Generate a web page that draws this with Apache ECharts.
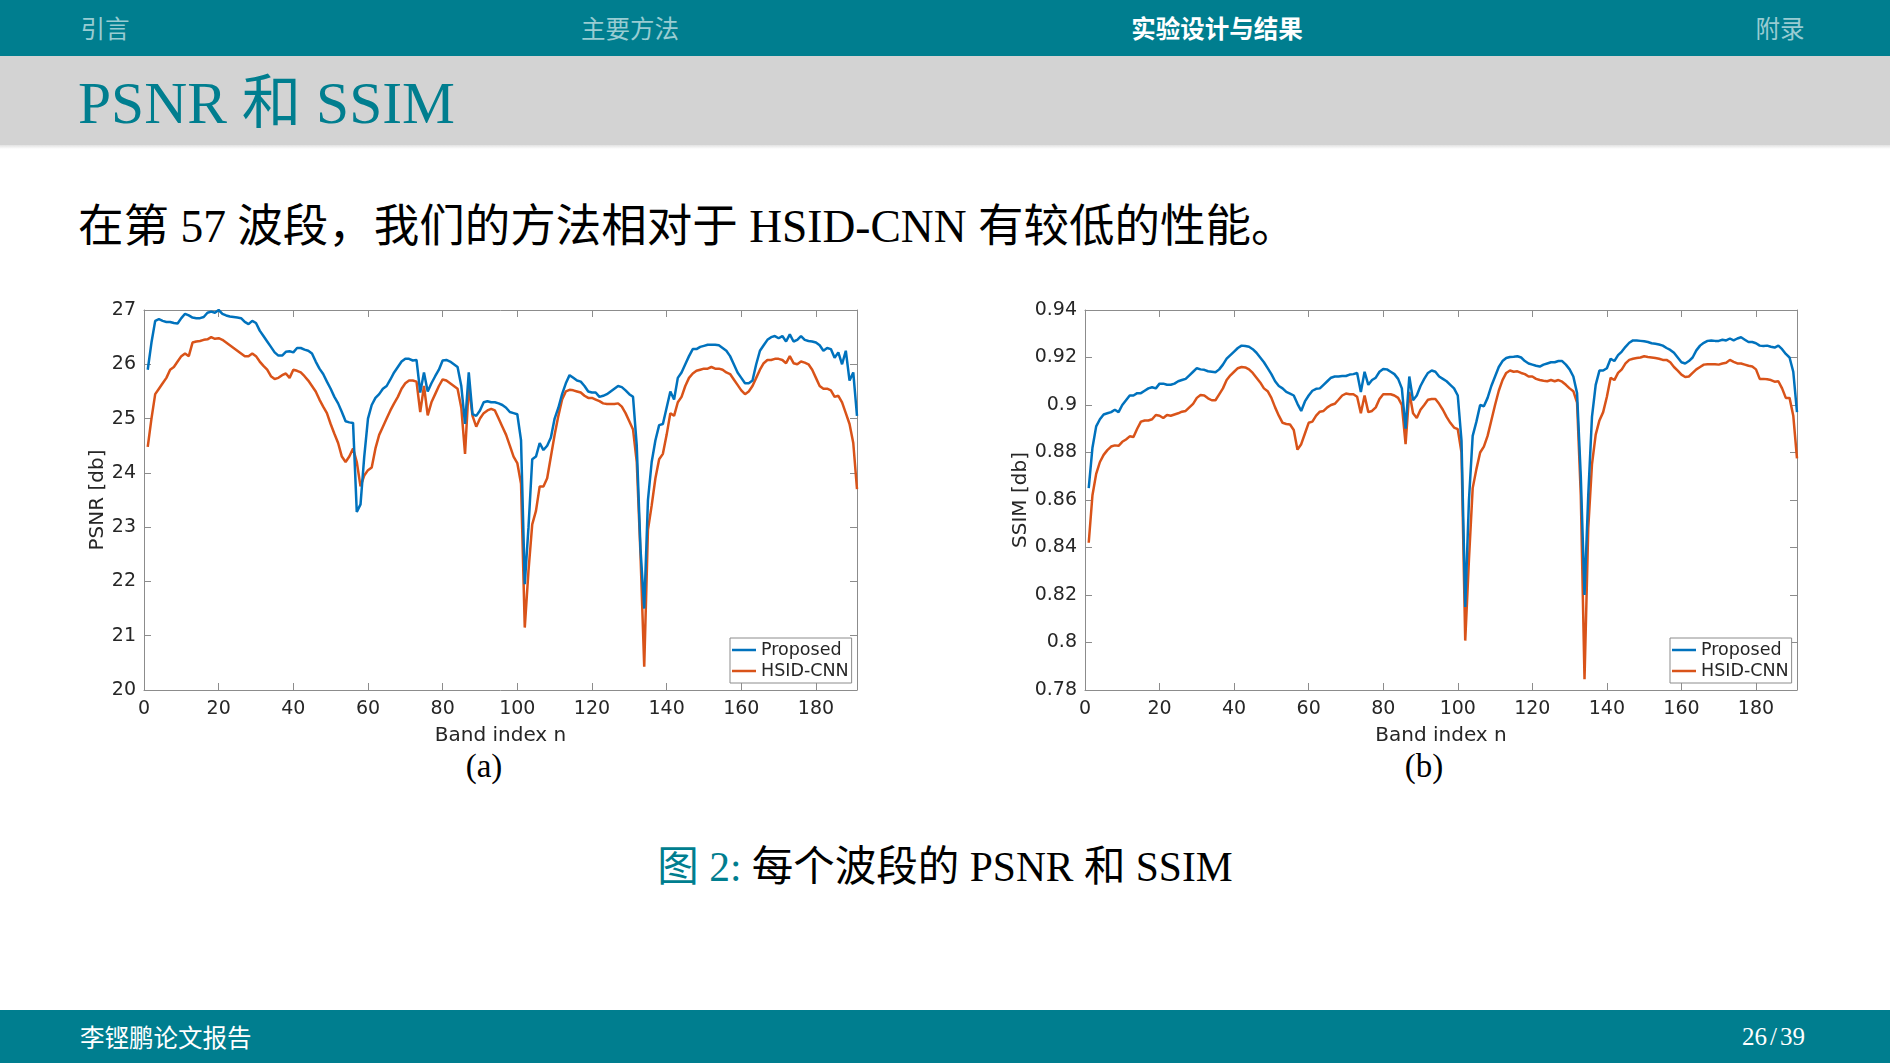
<!DOCTYPE html>
<html><head><meta charset="utf-8">
<script src="https://cdn.jsdelivr.net/npm/echarts@6.0.0/dist/echarts.min.js"></script>
<style>
html,body{margin:0;padding:0;background:#fff;}
#page{position:relative;width:1890px;height:1063px;overflow:hidden;background:#fff;}
.bar{position:absolute;left:0;width:1890px;background:#007E8F;}
.nav{position:absolute;top:0;height:56px;line-height:56px;font-family:"Noto Sans CJK SC",sans-serif;font-size:24.5px;color:#99CCD2;transform:translateX(-50%);white-space:nowrap;}
.serif{font-family:"Liberation Serif","Noto Sans CJK SC",serif;}
#chart{position:absolute;left:0;top:0;width:1890px;height:1063px;}
.sub{position:absolute;font-family:"Liberation Serif",serif;font-size:33px;line-height:1;color:#000;transform:translateX(-50%);}
</style></head>
<body><div id="page">
<div class="bar" style="top:0;height:56px;"></div>
<div class="nav" style="left:105px;">引言</div>
<div class="nav" style="left:630px;">主要方法</div>
<div class="nav" style="left:1217px;color:#fff;font-weight:bold;">实验设计与结果</div>
<div class="nav" style="left:1780px;">附录</div>
<div style="position:absolute;left:0;top:56px;width:1890px;height:89px;background:#D3D3D3;"></div>
<div style="position:absolute;left:0;top:145px;width:1890px;height:4px;background:linear-gradient(#e2e2e2,#ffffff);"></div>
<div class="serif" style="position:absolute;left:78px;top:74px;font-size:59.5px;line-height:1;color:#007E8F;white-space:nowrap;">PSNR 和 SSIM</div>
<div class="serif" style="position:absolute;left:78px;top:204px;font-size:45.5px;line-height:1;color:#000;white-space:nowrap;">在第 57 波段，我们的方法相对于 HSID-CNN 有较低的性能。</div>
<div class="serif" style="position:absolute;left:945px;top:847px;transform:translateX(-50%);font-size:41.5px;line-height:1;color:#000;white-space:nowrap;"><span style="color:#007E8F;">图 2:</span> 每个波段的 PSNR 和 SSIM</div>
<div class="bar" style="top:1010px;height:53px;"></div>
<div style="position:absolute;left:80px;top:1010px;height:53px;line-height:53px;font-family:'Noto Sans CJK SC',sans-serif;font-size:24.5px;color:#fff;">李铿鹏论文报告</div>
<div class="serif" style="position:absolute;right:85px;top:1010px;height:53px;line-height:53px;font-size:25px;color:#fff;white-space:nowrap;">26<span style="margin:0 3px;">/</span>39</div>
<div class="sub" style="left:484px;top:750px;">(a)</div>
<div class="sub" style="left:1424px;top:750px;">(b)</div>
<div id="chart"></div>
</div>
<script>
// ---- data (band index n = 1..191) ----
const xTickLabels = [0, 20, 40, 60, 80, 100, 120, 140, 160, 180];
const seriesNames = ['Proposed', 'HSID-CNN'];
const psnrProposed = [
25.9,26.4,26.8,26.83,26.8,26.78,26.78,26.76,26.75,26.85,
26.93,26.9,26.86,26.85,26.85,26.87,26.95,26.97,26.95,27.0,
26.93,26.9,26.88,26.87,26.86,26.85,26.78,26.74,26.8,26.76,
26.62,26.52,26.42,26.32,26.22,26.16,26.16,26.23,26.24,26.22,
26.3,26.3,26.27,26.25,26.2,26.05,25.92,25.82,25.68,25.55,
25.4,25.28,25.12,24.95,24.93,24.92,23.28,23.42,24.3,25.0,
25.25,25.38,25.45,25.55,25.6,25.72,25.85,25.95,26.05,26.1,
26.1,26.07,26.08,25.48,25.85,25.5,25.65,25.78,25.9,26.07,
26.08,26.05,26.0,25.95,25.6,24.9,25.85,25.08,25.05,25.15,
25.3,25.32,25.3,25.3,25.28,25.25,25.2,25.12,25.1,25.08,
24.6,21.95,23.0,24.25,24.3,24.55,24.42,24.5,24.65,25.0,
25.2,25.45,25.65,25.8,25.75,25.7,25.68,25.6,25.5,25.48,
25.48,25.4,25.42,25.45,25.5,25.55,25.6,25.58,25.52,25.45,
25.4,24.5,22.6,21.5,23.5,24.2,24.6,24.88,24.9,25.2,
25.5,25.35,25.75,25.85,26.0,26.15,26.28,26.28,26.32,26.34,
26.36,26.36,26.36,26.35,26.3,26.25,26.15,26.0,25.85,25.75,
25.65,25.65,25.7,26.0,26.25,26.35,26.45,26.5,26.52,26.48,
26.52,26.42,26.55,26.42,26.45,26.52,26.45,26.43,26.42,26.4,
26.35,26.25,26.3,26.28,26.12,26.22,26.0,26.25,25.7,25.85,
25.05];
const psnrHSID = [
24.48,25.0,25.45,25.55,25.65,25.75,25.9,25.95,26.05,26.15,
26.2,26.15,26.4,26.42,26.43,26.45,26.46,26.5,26.47,26.48,
26.45,26.4,26.35,26.3,26.25,26.2,26.15,26.15,26.2,26.15,
26.05,25.97,25.9,25.78,25.73,25.75,25.8,25.83,25.75,25.9,
25.88,25.85,25.78,25.7,25.6,25.5,25.35,25.22,25.1,24.9,
24.72,24.55,24.3,24.2,24.3,24.45,24.2,23.75,23.95,24.05,
24.1,24.45,24.7,24.85,25.0,25.15,25.28,25.4,25.55,25.65,
25.7,25.7,25.68,25.12,25.6,25.06,25.3,25.45,25.6,25.72,
25.7,25.65,25.6,25.55,25.2,24.35,25.6,25.05,24.85,25.0,
25.1,25.15,25.18,25.15,25.0,24.85,24.7,24.5,24.3,24.18,
23.8,21.15,22.2,23.05,23.3,23.75,23.75,23.9,24.3,24.7,
25.05,25.35,25.5,25.53,25.52,25.5,25.48,25.42,25.38,25.38,
25.35,25.32,25.28,25.27,25.27,25.27,25.28,25.22,25.1,24.95,
24.8,24.2,22.5,20.43,22.95,23.4,23.9,24.25,24.35,24.7,
25.1,25.05,25.3,25.4,25.6,25.75,25.83,25.88,25.9,25.92,
25.92,25.95,25.92,25.92,25.9,25.85,25.82,25.72,25.62,25.52,
25.45,25.5,25.6,25.75,25.9,26.02,26.08,26.08,26.1,26.1,
26.08,26.02,26.15,26.02,26.0,26.05,26.03,26.0,25.9,25.75,
25.6,25.55,25.55,25.52,25.4,25.42,25.3,25.1,24.9,24.55,
23.7];
const ssimProposed = [
0.865,0.882,0.891,0.894,0.896,0.8965,0.897,0.898,0.897,0.900,
0.902,0.904,0.904,0.905,0.905,0.906,0.907,0.9075,0.907,0.909,
0.909,0.9085,0.9085,0.909,0.910,0.9105,0.911,0.9125,0.914,0.9155,
0.915,0.9148,0.9142,0.914,0.9138,0.915,0.917,0.9195,0.921,0.9225,
0.924,0.925,0.9248,0.9245,0.9235,0.922,0.920,0.918,0.9155,0.913,
0.910,0.908,0.907,0.9055,0.9048,0.904,0.9005,0.8975,0.9015,0.904,
0.906,0.9068,0.907,0.9085,0.910,0.9115,0.912,0.912,0.9122,0.9122,
0.9128,0.913,0.9135,0.9055,0.914,0.9085,0.9105,0.9115,0.914,0.9152,
0.915,0.914,0.913,0.911,0.907,0.890,0.912,0.902,0.904,0.908,
0.911,0.9135,0.9145,0.914,0.912,0.911,0.910,0.9085,0.907,0.904,
0.885,0.815,0.860,0.887,0.893,0.900,0.8995,0.903,0.908,0.912,
0.916,0.9185,0.9198,0.9202,0.9203,0.9205,0.920,0.9185,0.9175,0.917,
0.9165,0.9162,0.917,0.9175,0.918,0.918,0.9185,0.9185,0.917,0.915,
0.912,0.905,0.870,0.820,0.862,0.895,0.9085,0.9145,0.9145,0.9155,
0.9195,0.9185,0.921,0.9225,0.9245,0.9262,0.9272,0.9272,0.927,0.9268,
0.9265,0.926,0.9258,0.9255,0.925,0.924,0.9232,0.922,0.920,0.918,
0.9175,0.9185,0.920,0.923,0.925,0.9262,0.927,0.9272,0.927,0.927,
0.9275,0.9272,0.928,0.9272,0.928,0.9285,0.9275,0.9265,0.9265,0.926,
0.925,0.9248,0.925,0.9245,0.9242,0.925,0.9235,0.9215,0.920,0.914,
0.897];
const ssimHSID = [
0.842,0.862,0.871,0.876,0.879,0.881,0.8825,0.883,0.8828,0.8845,
0.8855,0.8868,0.8865,0.890,0.893,0.8935,0.8935,0.894,0.8958,0.8955,
0.8945,0.8958,0.8955,0.896,0.8965,0.8972,0.8975,0.899,0.9005,0.903,
0.9042,0.904,0.9028,0.902,0.902,0.9045,0.907,0.9105,0.9125,0.914,
0.9155,0.916,0.9158,0.915,0.9135,0.9115,0.9095,0.907,0.9058,0.903,
0.899,0.8955,0.8925,0.892,0.8918,0.8895,0.8812,0.8835,0.888,0.8925,
0.893,0.8955,0.8972,0.8975,0.899,0.900,0.9005,0.9022,0.904,0.9048,
0.9045,0.9045,0.9035,0.8965,0.904,0.897,0.8975,0.899,0.9025,0.9045,
0.9045,0.9045,0.904,0.903,0.900,0.8835,0.9055,0.8965,0.8945,0.898,
0.900,0.9022,0.9025,0.9025,0.9005,0.898,0.895,0.8925,0.8905,0.8898,
0.880,0.8008,0.835,0.865,0.873,0.880,0.8825,0.887,0.8935,0.900,
0.906,0.9105,0.9135,0.9145,0.914,0.9142,0.9135,0.913,0.912,0.912,
0.911,0.9105,0.9102,0.910,0.9105,0.910,0.9105,0.9098,0.9085,0.907,
0.9058,0.901,0.862,0.7845,0.848,0.875,0.8875,0.8935,0.897,0.9035,
0.9115,0.9105,0.9135,0.915,0.9175,0.919,0.9195,0.9198,0.920,0.9205,
0.9202,0.920,0.9198,0.9195,0.919,0.919,0.918,0.916,0.9145,0.9128,
0.9118,0.912,0.9135,0.915,0.916,0.917,0.9172,0.9172,0.9172,0.917,
0.9175,0.9178,0.919,0.9182,0.9175,0.9175,0.917,0.9165,0.9162,0.915,
0.911,0.911,0.9108,0.9105,0.9098,0.910,0.907,0.903,0.903,0.8955,
0.8775];

// ---- chart build ----
const BLUE = '#0072BD', ORANGE = '#D95319', AX = '#8c8c8c', TXT = '#262626', FONT = 'DejaVu Sans';
const toPairs = arr => arr.map((v, i) => [i + 1, v]);
const grids = [
  {left: 144, top: 310, width: 713, height: 380},
  {left: 1085, top: 310, width: 712, height: 380}
];
const yConf = [
  {min: 20, max: 27, interval: 1, name: 'PSNR [db]', nameGap: 35},
  {min: 0.78, max: 0.94, interval: 0.02, name: 'SSIM [db]', nameGap: 54}
];
const xAxes = [], yAxes = [], series = [], legends = [];
grids.forEach((g, gi) => {
  xAxes.push({
    type: 'value', gridIndex: gi, position: 'bottom', min: 0, max: 191,
    axisLine: {onZero: false, lineStyle: {color: AX, width: 1}},
    axisTick: {inside: true, length: 7, lineStyle: {color: AX}, customValues: xTickLabels},
    axisLabel: {customValues: xTickLabels, color: TXT, fontFamily: FONT, fontSize: 19, margin: 10},
    splitLine: {show: false},
    name: 'Band index n', nameLocation: 'middle', nameGap: 35.5,
    nameTextStyle: {color: TXT, fontFamily: FONT, fontSize: 20}
  });
  xAxes.push({
    type: 'value', gridIndex: gi, position: 'top', min: 0, max: 191,
    axisLine: {onZero: false, lineStyle: {color: AX, width: 1}},
    axisTick: {inside: true, length: 7, lineStyle: {color: AX}, customValues: xTickLabels},
    axisLabel: {show: false}, splitLine: {show: false}
  });
  const yc = yConf[gi];
  yAxes.push({
    type: 'value', gridIndex: gi, position: 'left', min: yc.min, max: yc.max, interval: yc.interval,
    axisLine: {show: true, onZero: false, lineStyle: {color: AX, width: 1}},
    axisTick: {show: true, inside: true, length: 7, lineStyle: {color: AX}},
    axisLabel: {color: TXT, fontFamily: FONT, fontSize: 19, margin: 8},
    splitLine: {show: false},
    name: yc.name, nameLocation: 'middle', nameGap: yc.nameGap,
    nameTextStyle: {color: TXT, fontFamily: FONT, fontSize: 20}
  });
  yAxes.push({
    type: 'value', gridIndex: gi, position: 'right', min: yc.min, max: yc.max, interval: yc.interval,
    axisLine: {show: true, onZero: false, lineStyle: {color: AX, width: 1}},
    axisTick: {show: true, inside: true, length: 7, lineStyle: {color: AX}},
    axisLabel: {show: false}, splitLine: {show: false}
  });
  legends.push({
    orient: 'vertical', left: g.left + g.width - 127, top: 638,
    data: seriesNames.map(n => ({name: n, icon: 'rect'})),
    itemWidth: 24, itemHeight: 2.5, itemGap: 3,
    padding: [3, 3, 3, 2], backgroundColor: '#fff', borderColor: AX, borderWidth: 1,
    textStyle: {color: TXT, fontFamily: FONT, fontSize: 17.5, lineHeight: 18}, selectedMode: false
  });
});
const sets = [[psnrProposed, psnrHSID], [ssimProposed, ssimHSID]];
sets.forEach((pair, gi) => {
  pair.forEach((vals, si) => {
    series.push({
      type: 'line', name: seriesNames[si], xAxisIndex: gi * 2, yAxisIndex: gi * 2,
      data: toPairs(vals), showSymbol: false, symbol: 'none',
      lineStyle: {color: si === 0 ? BLUE : ORANGE, width: 2.5},
      itemStyle: {color: si === 0 ? BLUE : ORANGE},
      z: si === 0 ? 3 : 2
    });
  });
});
const chart = echarts.init(document.getElementById('chart'), null, {renderer: 'canvas'});
chart.setOption({
  animation: false,
  backgroundColor: 'transparent',
  grid: grids.map(g => Object.assign({outerBoundsMode: 'none', containLabel: false}, g)),
  xAxis: xAxes, yAxis: yAxes, legend: legends, series: series
});
</script>
</body></html>
